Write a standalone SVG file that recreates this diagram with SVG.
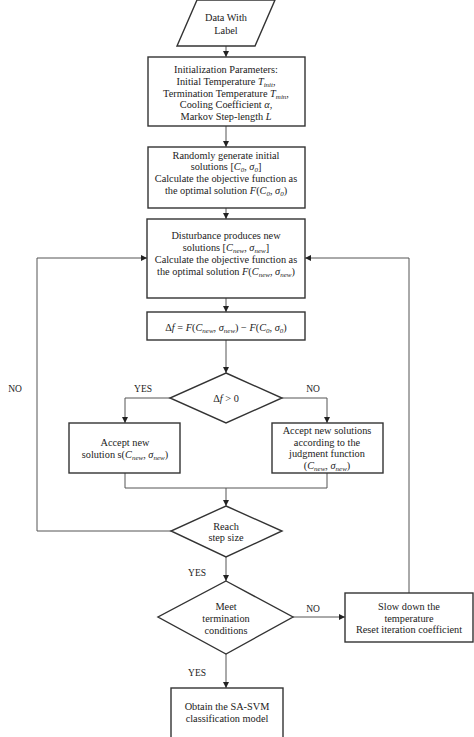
<svg xmlns="http://www.w3.org/2000/svg" width="474" height="737" viewBox="0 0 474 737">
<defs>
<marker id="arr" viewBox="0 0 10 10" refX="10" refY="5" markerWidth="6" markerHeight="6" orient="auto" markerUnits="userSpaceOnUse"><path d="M0,0 L10,5 L0,10 z" fill="#222"/></marker>
</defs>
<style>
.n{fill:#fff;stroke:#333;stroke-width:1.4}
.c{fill:none;stroke:#555;stroke-width:1}
.t{font-family:"Liberation Serif","DejaVu Serif",serif;font-size:10.3px;fill:#222;text-anchor:middle}
.i{font-style:italic;fill:#222}
.s{font-size:7px;font-style:italic;fill:#222}
.l{font-family:"Liberation Serif","DejaVu Serif",serif;font-size:9.5px;fill:#222;text-anchor:middle}
</style>
<rect width="474" height="737" fill="#fff"/>
<g id="connectors">
<line class="c" x1="226" y1="46" x2="226" y2="57" marker-end="url(#arr)"/>
<line class="c" x1="226" y1="126" x2="226" y2="147" marker-end="url(#arr)"/>
<line class="c" x1="226" y1="208" x2="226" y2="219" marker-end="url(#arr)"/>
<line class="c" x1="226" y1="298" x2="226" y2="312" marker-end="url(#arr)"/>
<line class="c" x1="226" y1="340" x2="226" y2="373" marker-end="url(#arr)"/>
<polyline class="c" points="170,398 125,398 125,423" marker-end="url(#arr)"/>
<polyline class="c" points="282,398 327,398 327,423" marker-end="url(#arr)"/>
<polyline class="c" points="125,473 125,488 327,488 327,473"/>
<line class="c" x1="226" y1="488" x2="226" y2="506" marker-end="url(#arr)"/>
<polyline class="c" points="171,531 37,531 37,258 147,258" marker-end="url(#arr)"/>
<line class="c" x1="226" y1="557" x2="226" y2="581" marker-end="url(#arr)"/>
<line class="c" x1="293" y1="617" x2="345" y2="617" marker-end="url(#arr)"/>
<polyline class="c" points="409,593 409,258 305,258" marker-end="url(#arr)"/>
<line class="c" x1="226" y1="654" x2="226" y2="688" marker-end="url(#arr)"/>
<text class="l" x="15" y="392">NO</text>
<text class="l" x="143" y="392">YES</text>
<text class="l" x="313" y="392">NO</text>
<text class="l" x="197" y="576">YES</text>
<text class="l" x="313" y="612">NO</text>
<text class="l" x="197" y="676">YES</text>
</g>
<g id="data">
<polygon class="n" points="197,0 275,0 255,46 177,46"/>
<text class="t" x="226" y="21">Data With</text>
<text class="t" x="226" y="34">Label</text>
</g>
<g id="init">
<rect class="n" x="148" y="57" width="157" height="69"/>
<text class="t" x="226" y="73">Initialization Parameters:</text>
<text class="t" x="226" y="85">Initial Temperature <tspan class="i">T</tspan><tspan class="s" dy="2">init</tspan><tspan dy="-2">,</tspan></text>
<text class="t" x="226" y="97">Termination Temperature <tspan class="i">T</tspan><tspan class="s" dy="2">min</tspan><tspan dy="-2">,</tspan></text>
<text class="t" x="226" y="108">Cooling Coefficient <tspan class="i">α</tspan>,</text>
<text class="t" x="226" y="120">Markov Step-length <tspan class="i">L</tspan></text>
</g>
<g id="random">
<rect class="n" x="148" y="147" width="157" height="61"/>
<text class="t" x="226" y="159">Randomly generate initial</text>
<text class="t" x="226" y="170">solutions [<tspan class="i">C</tspan><tspan class="s" dy="2">0</tspan><tspan dy="-2">, </tspan><tspan class="i">σ</tspan><tspan class="s" dy="2">0</tspan><tspan dy="-2">]</tspan></text>
<text class="t" x="226" y="182">Calculate the objective function as</text>
<text class="t" x="226" y="194">the optimal solution <tspan class="i">F</tspan>(<tspan class="i">C</tspan><tspan class="s" dy="2">0</tspan><tspan dy="-2">, </tspan><tspan class="i">σ</tspan><tspan class="s" dy="2">0</tspan><tspan dy="-2">)</tspan></text>
</g>
<g id="disturb">
<rect class="n" x="147" y="219" width="158" height="79"/>
<text class="t" x="226" y="239">Disturbance produces new</text>
<text class="t" x="226" y="251">solutions [<tspan class="i">C</tspan><tspan class="s" dy="2">new</tspan><tspan dy="-2">, </tspan><tspan class="i">σ</tspan><tspan class="s" dy="2">new</tspan><tspan dy="-2">]</tspan></text>
<text class="t" x="226" y="263">Calculate the objective function as</text>
<text class="t" x="226" y="275">the optimal solution <tspan class="i">F</tspan>(<tspan class="i">C</tspan><tspan class="s" dy="2">new</tspan><tspan dy="-2">, </tspan><tspan class="i">σ</tspan><tspan class="s" dy="2">new</tspan><tspan dy="-2">)</tspan></text>
</g>
<g id="delta">
<rect class="n" x="147" y="312" width="158" height="28"/>
<text class="t" x="226" y="331">Δ<tspan class="i">f</tspan> = <tspan class="i">F</tspan>(<tspan class="i">C</tspan><tspan class="s" dy="2">new</tspan><tspan dy="-2">, </tspan><tspan class="i">σ</tspan><tspan class="s" dy="2">new</tspan><tspan dy="-2">) − </tspan><tspan class="i">F</tspan>(<tspan class="i">C</tspan><tspan class="s" dy="2">0</tspan><tspan dy="-2">, </tspan><tspan class="i">σ</tspan><tspan class="s" dy="2">0</tspan><tspan dy="-2">)</tspan></text>
</g>
<g id="cond1">
<polygon class="n" points="226,373 282,398 226,423 170,398"/>
<text class="t" x="226" y="402">Δ<tspan class="i">f</tspan> &gt; 0</text>
</g>
<g id="acceptL">
<rect class="n" x="69" y="423" width="111" height="50"/>
<text class="t" x="125" y="446">Accept new</text>
<text class="t" x="125" y="458">solution s(<tspan class="i">C</tspan><tspan class="s" dy="2">new</tspan><tspan dy="-2">, </tspan><tspan class="i">σ</tspan><tspan class="s" dy="2">new</tspan><tspan dy="-2">)</tspan></text>
</g>
<g id="acceptR">
<rect class="n" x="272" y="423" width="111" height="50"/>
<text class="t" x="327" y="434">Accept new solutions</text>
<text class="t" x="327" y="446">according to the</text>
<text class="t" x="327" y="457">judgment function</text>
<text class="t" x="327" y="469">(<tspan class="i">C</tspan><tspan class="s" dy="2">new</tspan><tspan dy="-2">, </tspan><tspan class="i">σ</tspan><tspan class="s" dy="2">new</tspan><tspan dy="-2">)</tspan></text>
</g>
<g id="reach">
<polygon class="n" points="226,506 282,531 226,557 171,531"/>
<text class="t" x="226" y="530">Reach</text>
<text class="t" x="226" y="541">step size</text>
</g>
<g id="meet">
<polygon class="n" points="226,581 293,617 226,654 158,617"/>
<text class="t" x="226" y="610">Meet</text>
<text class="t" x="226" y="622">termination</text>
<text class="t" x="226" y="634">conditions</text>
</g>
<g id="slow">
<rect class="n" x="345" y="593" width="128" height="49"/>
<text class="t" x="409" y="610">Slow down the</text>
<text class="t" x="409" y="622">temperature</text>
<text class="t" x="409" y="633">Reset iteration coefficient</text>
</g>
<g id="obtain">
<rect class="n" x="171" y="688" width="112" height="60"/>
<text class="t" x="227" y="710">Obtain the SA-SVM</text>
<text class="t" x="227" y="722">classification model</text>
</g>
</svg>
